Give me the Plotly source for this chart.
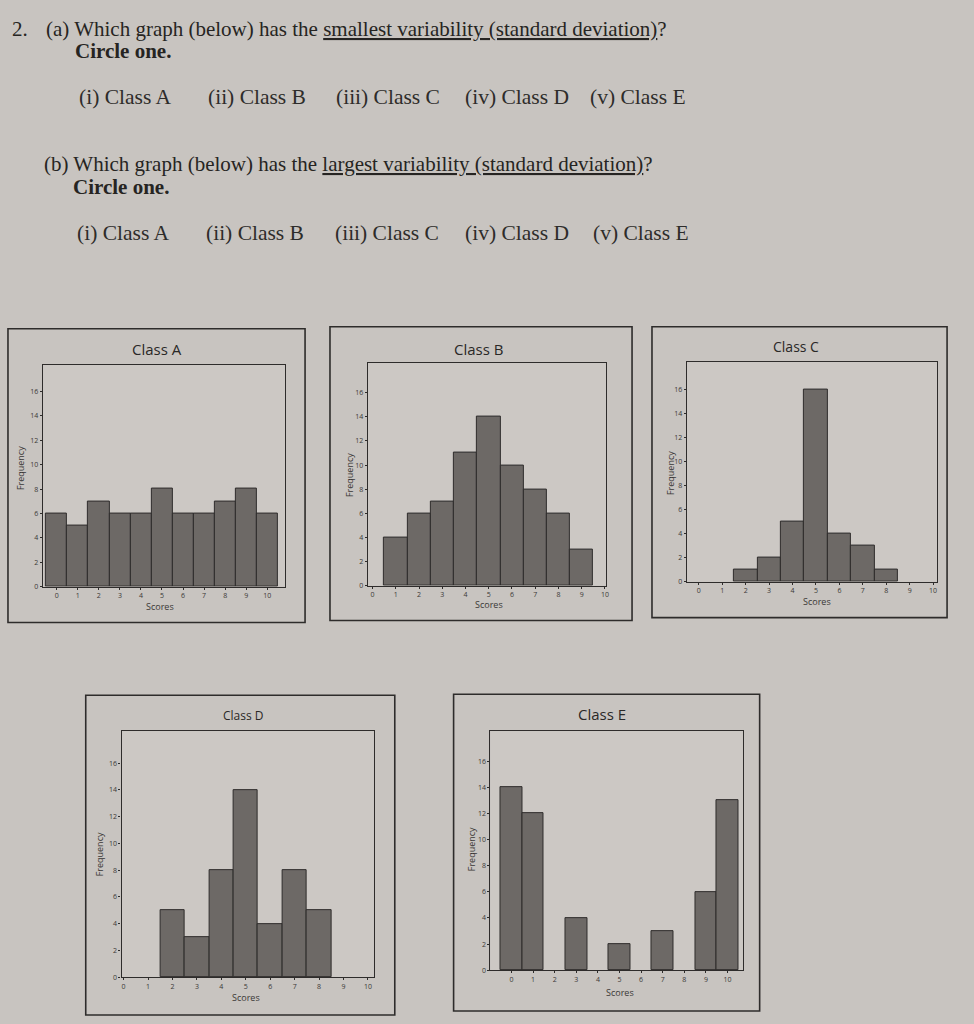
#Worksheet figure: five class score histograms with the two variability questions above them
import plotly.graph_objects as go

W, H = 974, 1024

classes = ["Class A", "Class B", "Class C", "Class D", "Class E"]

scores_a = [0, 1, 2, 3, 4, 5, 6, 7, 8, 9, 10]
freq_a = [6, 5, 7, 6, 6, 8, 6, 6, 7, 8, 6]

scores_b = [1, 2, 3, 4, 5, 6, 7, 8, 9]
freq_b = [4, 6, 7, 11, 14, 10, 8, 6, 3]

scores_c = [2, 3, 4, 5, 6, 7, 8]
freq_c = [1, 2, 5, 16, 4, 3, 1]

scores_d = [2, 3, 4, 5, 6, 7, 8]
freq_d = [5, 3, 8, 14, 4, 8, 5]

scores_e = [0, 1, 3, 5, 7, 9, 10]
freq_e = [14, 12, 4, 2, 3, 6, 13]

x_ticks = list(range(0, 11))
y_ticks = list(range(0, 17, 2))

options = ["(i) Class A", "(ii) Class B", "(iii) Class C", "(iv) Class D", "(v) Class E"]

PAPER = "#c8c4c0"
PLOT_BG = "#ccc8c4"
BAR = "#6d6966"
INK = "#2e2c2b"

def px(x):
    return x / W

def py(y):
    return 1 - y / H

# pixel layout of each panel: plot frame, x range, y top, outer box, label spots, title size
panels = [
    dict(name=classes[0], x=scores_a, y=freq_a, frame=(43, 366, 286, 589), xr=(-0.66, 10.85), ytop=18.2,
         box=(8, 330, 306, 625), title=(157, 350), ylab=(20, 470), xlab=(160, 609), tsize=15),
    dict(name=classes[1], x=scores_b, y=freq_b, frame=(369, 364, 608, 588), xr=(-0.2, 10.05), ytop=18.5,
         box=(331, 328, 634, 623), title=(480, 350), ylab=(350, 477), xlab=(491, 607), tsize=15),
    dict(name=classes[2], x=scores_c, y=freq_c, frame=(689, 363, 940, 584), xr=(-0.51, 10.17), ytop=18.3,
         box=(654, 328, 950, 620), title=(798, 348), ylab=(672, 475), xlab=(820, 604), tsize=14),
    dict(name=classes[3], x=scores_d, y=freq_d, frame=(122, 734, 375, 981), xr=(-0.08, 10.24), ytop=18.4,
         box=(86, 698, 396, 1019), title=(244, 718), ylab=(100, 858), xlab=(247, 1001), tsize=12),
    dict(name=classes[4], x=scores_e, y=freq_e, frame=(492, 734, 745, 974), xr=(-0.97, 10.7), ytop=18.3,
         box=(455, 697, 762, 1015), title=(604, 717), ylab=(473, 853), xlab=(622, 996), tsize=15),
]

fig = go.Figure()
annotations = []
shapes = []

def note(text, x, y, font, xanchor="center", angle=0):
    return dict(text=text, x=px(x), y=py(y), xref="paper", yref="paper", xanchor=xanchor,
                yanchor="middle", showarrow=False, textangle=angle, font=font)

for i, p in enumerate(panels, start=1):
    sfx = "" if i == 1 else str(i)
    fig.add_trace(go.Bar(
        x=p["x"], y=p["y"], width=1,
        marker=dict(color=BAR, line=dict(color=INK, width=1)),
        xaxis="x" + sfx, yaxis="y" + sfx, showlegend=False, hoverinfo="skip",
    ))
    x0, y0, x1, y1 = p["frame"]
    axis_common = dict(showgrid=False, zeroline=False, showline=True, mirror=True,
                       linecolor=INK, linewidth=1.3, tickfont=dict(family="Open Sans", size=7, color="#3a3836"),
                       ticks="outside", ticklen=2, tickcolor=INK)
    fig.update_layout(**{
        "xaxis" + sfx: dict(domain=[px(x0), px(x1)], range=list(p["xr"]), tickvals=x_ticks,
                            anchor="y" + sfx, **axis_common),
        "yaxis" + sfx: dict(domain=[py(y1), py(y0)], range=[0, p["ytop"]], tickvals=y_ticks,
                            anchor="x" + sfx, **axis_common),
    })
    bx0, by0, bx1, by1 = p["box"]
    shapes.append(dict(type="rect", xref="paper", yref="paper", x0=px(bx0), x1=px(bx1),
                       y0=py(by1), y1=py(by0), line=dict(color=INK, width=1.6)))
    annotations.append(note(p["name"], *p["title"], dict(family="Open Sans", size=p["tsize"], color="#2a2827")))
    annotations.append(note("Frequency", *p["ylab"], dict(family="Open Sans", size=9, color="#3a3836"), angle=-90))
    annotations.append(note("Scores", *p["xlab"], dict(family="Open Sans", size=9, color="#3a3836")))

# question text
serif = dict(family="Liberation Serif", size=21, color="#262422")
text_rows = [
    ("2.", 10, 29),
    ("(a) Which graph (below) has the <u>smallest variability (standard deviation)</u>?", 44, 29),
    ("<b>Circle one.</b>", 73, 51),
    ("(b) Which graph (below) has the <u>largest variability (standard deviation)</u>?", 42, 165),
    ("<b>Circle one.</b>", 71, 188),
]
for txt, x, y in text_rows:
    annotations.append(note(txt, x, y, serif, xanchor="left"))

opt_font = dict(family="Liberation Serif", size=21.5, color="#2e2c2a")
opt_x_a = [77, 207, 335, 464, 590]
opt_x_b = [75, 205, 334, 464, 593]
for label, xa, xb in zip(options, opt_x_a, opt_x_b):
    annotations.append(note(label, xa, 97, opt_font, xanchor="left"))
    annotations.append(note(label, xb, 234, opt_font, xanchor="left"))

fig.update_layout(
    width=W, height=H,
    margin=dict(l=0, r=0, t=0, b=0),
    paper_bgcolor=PAPER,
    plot_bgcolor=PLOT_BG,
    bargap=0,
    annotations=annotations,
    shapes=shapes,
    showlegend=False,
)

fig.write_html("out.html", config={"displayModeBar": False},
               post_script="document.body.style.margin='0';document.body.style.background='%s';" % PAPER)
